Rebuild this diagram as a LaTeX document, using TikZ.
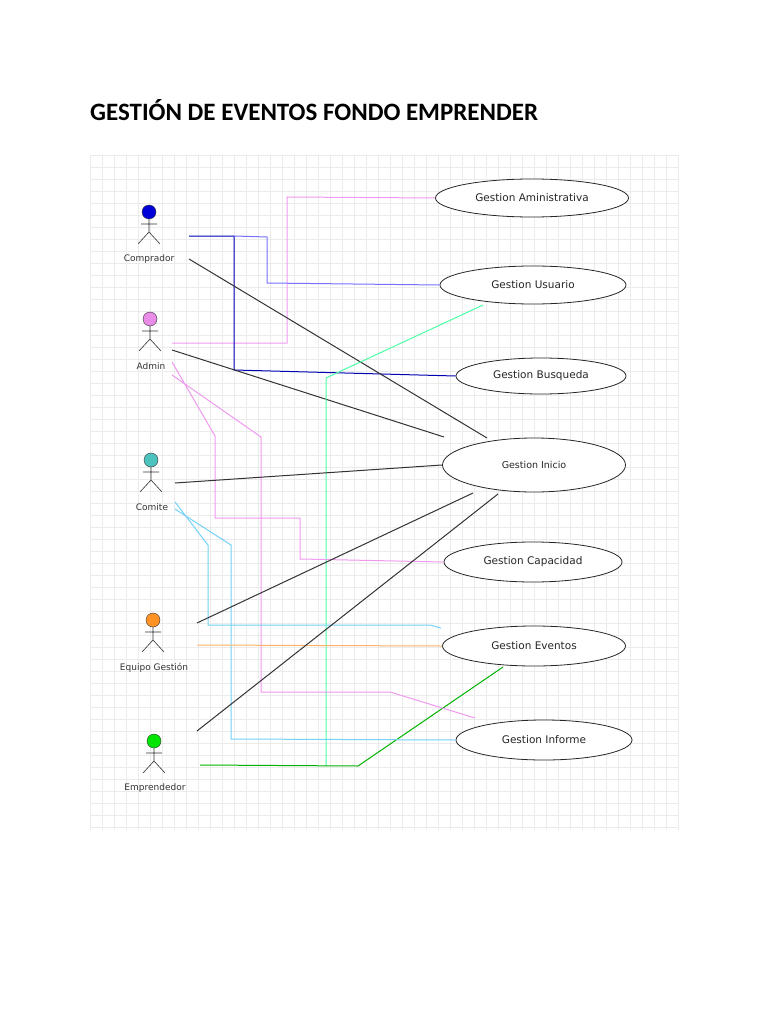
\documentclass[tikz,border=0pt]{standalone}
\usepackage{fontspec}
\usetikzlibrary{shapes.geometric}
\setmainfont{DejaVu Sans}
\newfontfamily\titlefont{Carlito}
\begin{document}
\begin{tikzpicture}[x=1pt,y=-1pt,
 uc/.style={draw=black!85,line width=0.8pt,ellipse,fill=white,inner sep=0pt,font=\fontsize{10.5}{12}\selectfont,text=black!85},
 actlabel/.style={font=\fontsize{9}{10}\selectfont,text=black!80,inner sep=0pt},
 ln/.style={line width=1pt}]
\useasboundingbox (0,0) rectangle (768,1024);
\fill[white] (0,0) rectangle (768,1024);
\foreach \gx in {90,102,...,678} \draw[black!8,line width=0.4pt] (\gx,155) -- (\gx,830);
\foreach \gy in {155,167,...,830} \draw[black!8,line width=0.4pt] (90,\gy) -- (678,\gy);
\node[anchor=west,inner sep=0pt,font=\titlefont\bfseries\fontsize{25}{28}\selectfont] (title) at (90,110) {GESTIÓN DE EVENTOS FONDO EMPRENDER};
% actors
\newcommand\actor[4]{%
 \node[circle,draw=black!80,fill=#3,minimum size=14pt,inner sep=0pt] (#4h) at (#1,#2) {};
 \draw[black!80,line width=0.6pt] (#1,#2+7) -- (#1,#2+20) (#1-8,#2+12) -- (#1+8,#2+12) (#1-11,#2+32) -- (#1,#2+20) -- (#1+11,#2+32);}
\actor{149}{212}{blue!85!black}{comp}
\actor{150}{319}{violet!40!magenta!45}{adm}
\actor{151}{460}{cyan!60!green!70}{comi}
\actor{153}{620}{orange!85}{equi}
\actor{154}{741}{green!90!black}{empr}
\node[actlabel] (lcomp) at (149,259) {Comprador};
\node[actlabel] (ladm) at (151,366) {Admin};
\node[actlabel] (lcomi) at (152,507) {Comite};
\node[actlabel] (lequi) at (154,668) {Equipo Gestión};
\node[actlabel] (lempr) at (155,788) {Emprendedor};
% connector coordinates
\coordinate (c1) at (189,236); \coordinate (c2) at (189,259);
\coordinate (a1) at (172,343); \coordinate (a2) at (172,350); \coordinate (a3) at (172,362); \coordinate (a4) at (172,375);
\coordinate (m1) at (175,483); \coordinate (m2) at (175,502); \coordinate (m3) at (175,509);
\coordinate (e1) at (197,623); \coordinate (e2) at (197,645);
\coordinate (p1) at (197,731); \coordinate (p2) at (200,765);
% use cases
\node[uc,minimum width=193pt,minimum height=38pt] (ua) at (532,198) {Gestion Aministrativa};
\node[uc,minimum width=186pt,minimum height=38pt] (uu) at (533,285) {Gestion Usuario};
\node[uc,minimum width=170pt,minimum height=36pt] (ub) at (541,376) {Gestion Busqueda};
\node[uc,minimum width=183pt,minimum height=54pt,font=\fontsize{9.5}{11}\selectfont] (ui) at (534,465) {Gestion Inicio};
\node[uc,minimum width=178pt,minimum height=40pt] (uc2) at (533,562) {Gestion Capacidad};
\node[uc,minimum width=183pt,minimum height=40pt] (ue) at (534,646) {Gestion Eventos};
\node[uc,minimum width=176pt,minimum height=40pt] (uinf) at (544,740) {Gestion Informe};
% lines
\draw[ln,violet!30!magenta!40] (a1) -- (287,343) -- (287,197) -- (ua.west);
\draw[ln,blue!70!black] (c1) -- (234,236) -- (234,370) -- (ub.west);
\draw[ln,blue!55] (234,236) -- (267,237) -- (267,283) -- (uu.west);
\draw[ln,black!80] (c2) -- (487,438);
\draw[ln,black!80] (a2) -- (444,437);
\draw[ln,green!50!cyan!70] (483,305) -- (326,378) -- (326,766);
\draw[ln,green!70!black] (p2) -- (358,766) -- (503,667);
\draw[ln,violet!30!magenta!40] (a3) -- (215,436) -- (215,518) -- (300,518) -- (300,559) -- (uc2.west);
\draw[ln,violet!30!magenta!40] (a4) -- (261,437) -- (261,692) -- (390,692) -- (475,718);
\draw[ln,black!80] (m1) -- (ui.west);
\draw[ln,cyan!55] (m2) -- (208,545) -- (208,625) -- (430,625) -- (441,628);
\draw[ln,cyan!55] (m3) -- (231,545) -- (231,739) -- (uinf.west);
\draw[ln,black!80] (e1) -- (473,493);
\draw[ln,orange!60] (e2) -- (ue.west);
\draw[ln,black!80] (p1) -- (498,494);
\end{tikzpicture}
\end{document}
